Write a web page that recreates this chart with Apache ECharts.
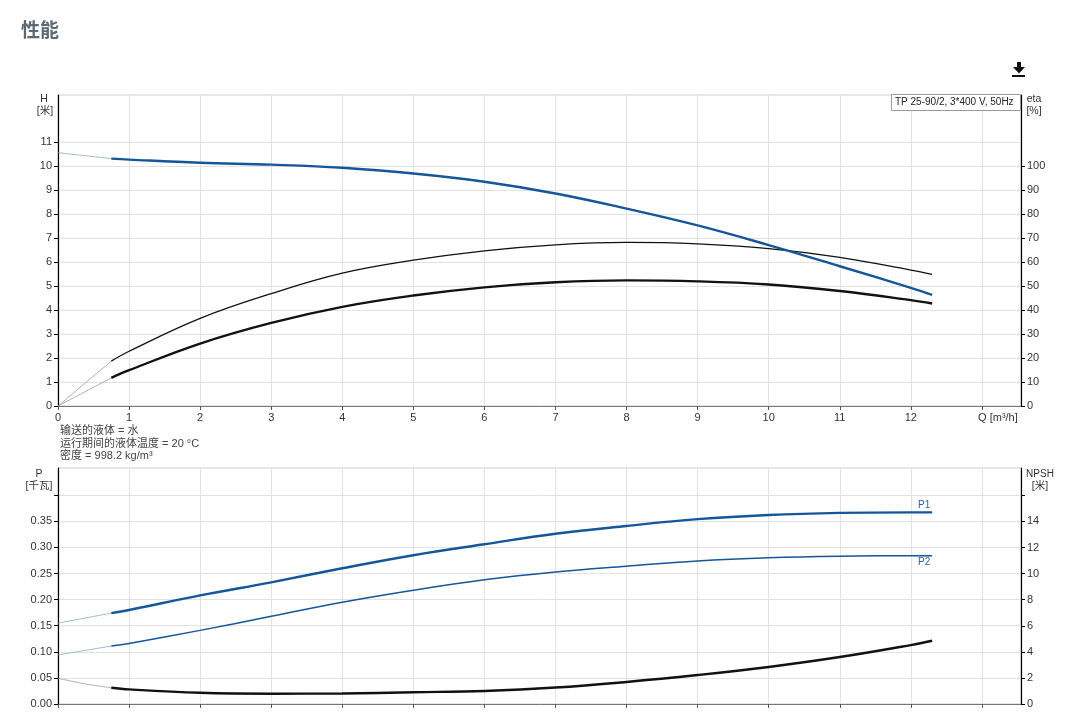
<!DOCTYPE html>
<html><head><meta charset="utf-8">
<script src="https://cdn.jsdelivr.net/npm/echarts@6/dist/echarts.min.js"></script>
<style>html,body{margin:0;padding:0;background:#fff}#c{width:1076px;height:726px}</style>
</head><body><div id="c"></div>
<script>
// ---- data ----
const qFlow    = [0.75, 1, 2, 3, 4, 5, 6, 7, 8, 9, 10, 11, 12, 12.3];
const headH    = [10.3, 10.26, 10.13, 10.05, 9.92, 9.68, 9.34, 8.85, 8.22, 7.52, 6.7, 5.82, 4.92, 4.63];
const etaThin  = [18.7, 22.8, 36.5, 46.8, 55.3, 60.7, 64.6, 67.1, 68.1, 67.5, 65.5, 61.9, 56.6, 54.8];
const etaThick = [11.7, 14.9, 26.0, 34.6, 41.3, 46.0, 49.4, 51.5, 52.3, 51.9, 50.6, 47.9, 44.1, 42.7];
const powerP1  = [0.174, 0.180, 0.208, 0.233, 0.260, 0.285, 0.306, 0.326, 0.341, 0.354, 0.362, 0.366, 0.367, 0.367];
const powerP2  = [0.111, 0.116, 0.141, 0.168, 0.195, 0.218, 0.238, 0.253, 0.264, 0.274, 0.280, 0.283, 0.284, 0.284];
const npsh     = [1.25, 1.12, 0.86, 0.79, 0.81, 0.9, 1.0, 1.26, 1.69, 2.22, 2.84, 3.6, 4.52, 4.85];
// extrapolated (thin) parts near zero flow
const extQ        = [0, 0.75];
const headExt     = [10.55, 10.3];
const etaThinExt  = [0, 18.7];
const etaThickExt = [0, 11.7];
const p1Ext       = [0.155, 0.174];
const p2Ext       = [0.094, 0.111];
const npshExtQ    = [0, 0.375, 0.75];
const npshExt     = [1.98, 1.55, 1.25];
const xTicks   = [0,1,2,3,4,5,6,7,8,9,10,11,12,13];
const hTicks   = [0,1,2,3,4,5,6,7,8,9,10,11];
const etaTicks = [0,10,20,30,40,50,60,70,80,90,100];
const pTicks   = [0,0.05,0.10,0.15,0.20,0.25,0.30,0.35,0.40];
const npshTicks= [0,2,4,6,8,10,12,14,16];
const qUnitLabel = 'Q [m³/h]';
const pumpLabel = 'TP 25-90/2, 3*400 V, 50Hz';
const notes = ['输送的液体 = 水', '运行期间的液体温度 = 20 °C', '密度 = 998.2 kg/m³'];

const pair = (xs, ys) => xs.map((x, i) => [x, ys[i]]);
const FONT = '"Liberation Sans", "Noto Sans CJK SC", sans-serif';
const BLUE = '#15569b';
const BLACK = '#111';
const GRID = '#e2e2e2';
const isInt = v => Math.abs(v - Math.round(v)) < 1e-6;

const chart = echarts.init(document.getElementById('c'), null, {renderer: 'canvas'});

function xAxisCfg(gi, showLabel) {
  return {
    type: 'value', gridIndex: gi, min: 0, max: 13.55, interval: 1,
    axisLine: {show: true, onZero: false, lineStyle: {color: '#777', width: 1}},
    axisTick: {show: true, length: 4, customValues: xTicks, lineStyle: {color: '#555'}},
    axisLabel: {
      show: showLabel, color: '#333', fontSize: 11, fontFamily: FONT, margin: 6,
      formatter: v => {
        if (Math.abs(v - 13) < 1e-6) return '{q|' + qUnitLabel + '}';
        return (isInt(v) && v < 12.5) ? String(Math.round(v)) : '';
      },
      rich: {q: {fontSize: 11, fontFamily: FONT, color: '#333', padding: [0, 0, 0, 32]}}
    },
    splitLine: {show: true, lineStyle: {color: GRID, width: 1}}
  };
}
function yAxisCfg(gi, pos, max, interval, ticks, maxLabel, fmt, split) {
  return {
    type: 'value', gridIndex: gi, position: pos, min: 0, max: max, interval: interval,
    axisLine: {show: true, onZero: false, lineStyle: {color: '#000', width: 1.2}},
    axisTick: {show: true, length: 4, customValues: ticks, lineStyle: {color: '#000'}},
    axisLabel: {
      color: '#333', fontSize: 11, fontFamily: FONT, margin: 6,
      formatter: v => (v <= maxLabel + 1e-9 && isInt(v / interval)) ? fmt(v) : ''
    },
    splitLine: {show: split, lineStyle: {color: GRID, width: 1}}
  };
}

const thinGray = {color: '#9a9a9a', width: 0.8};
const thinBlue = {color: '#8ea9c6', width: 0.8};

function line(name, xi, yi, data, style, z, extra) {
  return Object.assign({
    name: name, type: 'line', xAxisIndex: xi, yAxisIndex: yi, data: data,
    smooth: 0.4, showSymbol: false, symbol: 'none', lineStyle: style, z: z || 2,
    silent: true, animation: false
  }, extra || {});
}
const endLbl = (txt, va, off) => ({endLabel: {show: true, formatter: txt, color: '#2a64a8', fontSize: 10,
  fontFamily: FONT, distance: 0, align: 'center', verticalAlign: va, offset: off}});

const option = {
  animation: false,
  backgroundColor: '#fff',
  grid: [
    {left: 58, top: 95, width: 963, height: 311, show: true, borderColor: '#cfcfcf', borderWidth: 1, containLabel: false},
    {left: 58, top: 468, width: 963, height: 236, show: true, borderColor: '#cfcfcf', borderWidth: 1, containLabel: false}
  ],
  xAxis: [xAxisCfg(0, true), xAxisCfg(1, false)],
  yAxis: [
    yAxisCfg(0, 'left', 12.95, 1, hTicks, 11, v => String(Math.round(v)), true),
    yAxisCfg(0, 'right', 129.5, 10, etaTicks, 100, v => String(Math.round(v)), false),
    yAxisCfg(1, 'left', 0.452, 0.05, pTicks, 0.35, v => v.toFixed(2), true),
    yAxisCfg(1, 'right', 18.1, 2, npshTicks, 14, v => String(Math.round(v)), false)
  ],
  series: [
    line('H ext', 0, 0, pair(extQ, headExt), thinBlue),
    line('H', 0, 0, pair(qFlow, headH), {color: BLUE, width: 2.4}, 4),
    line('eta ext', 0, 1, pair(extQ, etaThinExt), thinGray),
    line('eta', 0, 1, pair(qFlow, etaThin), {color: BLACK, width: 1.3}, 3),
    line('eta2 ext', 0, 1, pair(extQ, etaThickExt), thinGray),
    line('eta2', 0, 1, pair(qFlow, etaThick), {color: BLACK, width: 2.4}, 3),
    line('P1 ext', 1, 2, pair(extQ, p1Ext), thinBlue),
    line('P1', 1, 2, pair(qFlow, powerP1), {color: BLUE, width: 2.4}, 4, endLbl('P1', 'bottom', [-8, -2])),
    line('P2 ext', 1, 2, pair(extQ, p2Ext), thinBlue),
    line('P2', 1, 2, pair(qFlow, powerP2), {color: BLUE, width: 1.5}, 4, endLbl('P2', 'top', [-8, 2])),
    line('NPSH ext', 1, 3, pair(npshExtQ, npshExt), thinGray),
    line('NPSH', 1, 3, pair(qFlow, npsh), {color: BLACK, width: 2.4}, 3)
  ],
  graphic: [
    {type: 'text', left: 21, top: 20, style: {text: '性能', font: 'bold 19px "Noto Sans CJK SC", sans-serif', fill: '#5d6872'}},
    // download icon
    {type: 'rect', shape: {x: 1017, y: 62, width: 4, height: 6}, style: {fill: '#111'}},
    {type: 'polygon', shape: {points: [[1013, 67], [1025, 67], [1019, 73.5]]}, style: {fill: '#111'}},
    {type: 'rect', shape: {x: 1012, y: 75, width: 13, height: 2}, style: {fill: '#111'}},
    // pump legend box
    {type: 'rect', z: 20, shape: {x: 891.5, y: 94.5, width: 129, height: 16}, style: {fill: '#fff', stroke: '#9a9a9a', lineWidth: 1}},
    {type: 'text', z: 21, x: 895, y: 102.5, style: {text: pumpLabel, font: '10px ' + FONT, fill: '#222', textVerticalAlign: 'middle'}},
    // axis names
    {type: 'text', x: 44, y: 99, style: {text: 'H', font: '10.5px ' + FONT, fill: '#333', textAlign: 'center', textVerticalAlign: 'middle'}},
    {type: 'text', x: 45, y: 111, style: {text: '[米]', font: '10.5px ' + FONT, fill: '#333', textAlign: 'center', textVerticalAlign: 'middle'}},
    {type: 'text', x: 1034, y: 99, style: {text: 'eta', font: '10.5px ' + FONT, fill: '#333', textAlign: 'center', textVerticalAlign: 'middle'}},
    {type: 'text', x: 1034, y: 111, style: {text: '[%]', font: '10.5px ' + FONT, fill: '#333', textAlign: 'center', textVerticalAlign: 'middle'}},
    {type: 'text', x: 39, y: 474, style: {text: 'P', font: '10.5px ' + FONT, fill: '#333', textAlign: 'center', textVerticalAlign: 'middle'}},
    {type: 'text', x: 39, y: 486, style: {text: '[千瓦]', font: '10.5px ' + FONT, fill: '#333', textAlign: 'center', textVerticalAlign: 'middle'}},
    {type: 'text', x: 1040, y: 474, style: {text: 'NPSH', font: '10px ' + FONT, fill: '#333', textAlign: 'center', textVerticalAlign: 'middle'}},
    {type: 'text', x: 1040, y: 486, style: {text: '[米]', font: '10.5px ' + FONT, fill: '#333', textAlign: 'center', textVerticalAlign: 'middle'}},
    // notes
    {type: 'text', x: 60, y: 430.5, style: {text: notes[0], font: '11px ' + FONT, fill: '#444', textVerticalAlign: 'middle'}},
    {type: 'text', x: 60, y: 443.5, style: {text: notes[1], font: '11px ' + FONT, fill: '#444', textVerticalAlign: 'middle'}},
    {type: 'text', x: 60, y: 456, style: {text: notes[2], font: '11px ' + FONT, fill: '#444', textVerticalAlign: 'middle'}}
  ]
};
chart.setOption(option);
</script>
</body></html>
